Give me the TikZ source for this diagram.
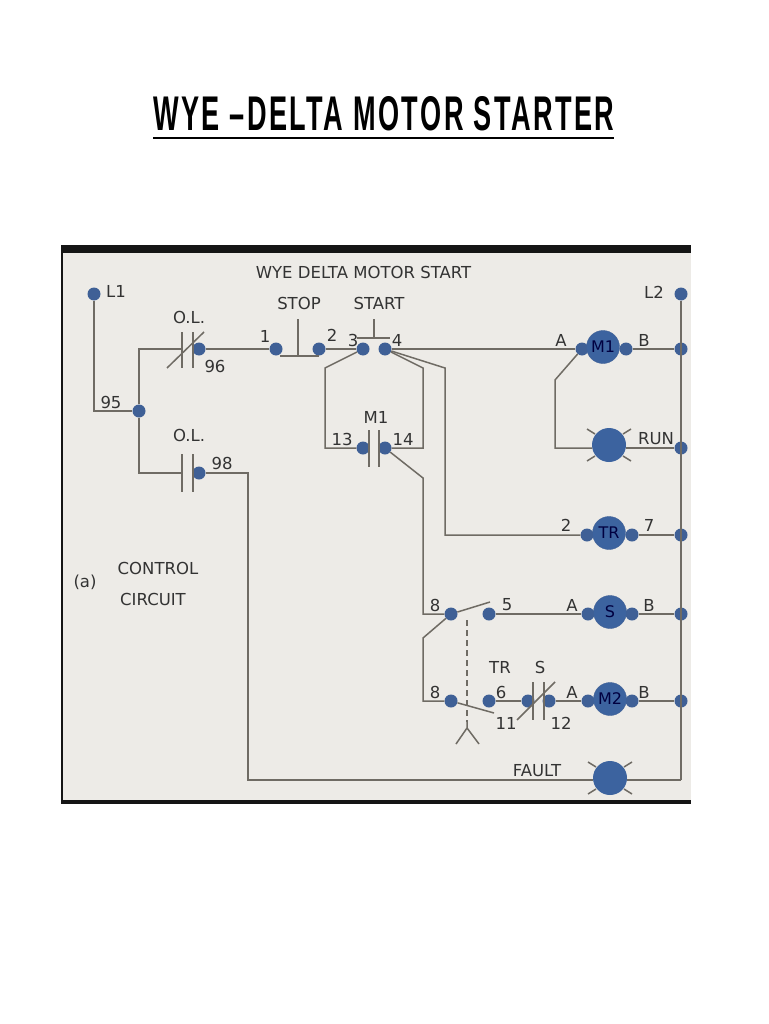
\documentclass[tikz,border=0pt]{standalone}
\usepackage{fontspec}
\usepackage{graphicx}
\setmainfont{DejaVu Sans}
\newfontfamily\titlefont[LetterSpace=9]{Liberation Sans}
\definecolor{panelbg}{HTML}{EDEBE7}
\definecolor{wirec}{HTML}{6F6B64}
\definecolor{dotc}{HTML}{3F6096}
\definecolor{motorc}{HTML}{3C639F}
\definecolor{labelc}{HTML}{333333}
\definecolor{barc}{HTML}{151515}
\tikzset{
  wire/.style={draw=wirec,line width=2pt},
  thinwire/.style={draw=wirec,line width=1.5pt},
  dot/.style={circle,fill=dotc,minimum size=13pt,inner sep=0pt},
  motor/.style={circle,fill=motorc,draw=dotc,minimum size=33pt,inner sep=0pt,text=black!75!blue,font=\fontsize{16}{16}\selectfont},
  lamp/.style={circle,fill=motorc,minimum size=34pt,inner sep=0pt},
  lbl/.style={text=labelc,inner sep=0pt,font=\fontsize{16.5}{17}\selectfont},
}
\begin{document}
\begin{tikzpicture}[x=1pt,y=-1pt]
\useasboundingbox (0,0) rectangle (768,1024);
% title
\node[inner sep=0pt,anchor=base west] (title) at (153,131) {\resizebox{461pt}{34pt}{\titlefont\bfseries WYE –DELTA MOTOR STARTER}};
\coordinate (ula) at (153,138);
\coordinate (ulb) at (614,138);
\draw[line width=1.6pt] (ula) -- (ulb);
% panel
\fill[panelbg] (61,245) rectangle (691,804);
\fill[barc] (61,245) rectangle (691,253);
\fill[barc] (61,800) rectangle (691,804);
\fill[barc] (61,245) rectangle (63,804);
% dots
\node[dot] (L1) at (94,294) {};
\node[dot] (j95) at (139,411) {};
\node[dot] (d96) at (199,349) {};
\node[dot] (d98) at (199,473) {};
\node[dot] (d1) at (276,349) {};
\node[dot] (d2) at (319,349) {};
\node[dot] (d3) at (363,349) {};
\node[dot] (d4) at (385,349) {};
\node[dot] (d13) at (363,448) {};
\node[dot] (d14) at (385,448) {};
\node[dot] (L2) at (681,294) {};
\node[dot] (r1) at (681,349) {};
\node[dot] (r2) at (681,448) {};
\node[dot] (r3) at (681,535) {};
\node[dot] (r4) at (681,614) {};
\node[dot] (r5) at (681,701) {};
\node[dot] (m1a) at (582,349) {};
\node[dot] (m1b) at (626,349) {};
\node[dot] (tra) at (587,535) {};
\node[dot] (trb) at (632,535) {};
\node[dot] (sa) at (588,614) {};
\node[dot] (sb) at (632,614) {};
\node[dot] (m2a) at (588,701) {};
\node[dot] (m2b) at (632,701) {};
\node[dot] (u8) at (451,614) {};
\node[dot] (d5) at (489,614) {};
\node[dot] (l8) at (451,701) {};
\node[dot] (d6) at (489,701) {};
\node[dot] (d11) at (528,701) {};
\node[dot] (d12) at (549,701) {};
% motors and lamps
\node[motor] (M1) at (603,347) {M1};
\node[motor] (TR) at (609,533) {TR};
\node[motor] (S) at (610,612) {S};
\node[motor] (M2) at (610,699) {M2};
\node[lamp] (run) at (609,445) {};
\node[lamp] (fault) at (610,778) {};
% lamp rays
\foreach \l in {run,fault}{
  \draw[thinwire] (\l.center) ++(-22,-16) -- ++(8,5);
  \draw[thinwire] (\l.center) ++(22,-16) -- ++(-8,5);
  \draw[thinwire] (\l.center) ++(-22,16) -- ++(8,-5);
  \draw[thinwire] (\l.center) ++(22,16) -- ++(-8,-5);
}
% junction helper coordinates
\coordinate (olnc1) at (182,349);
\coordinate (olno1) at (182,473);
\coordinate (br1) at (280,356);
\coordinate (br2) at (319,356);
\coordinate (k3) at (325,368);
\coordinate (k4a) at (423,368);
\coordinate (k4b) at (445,368);
\coordinate (k14) at (423,478);
\coordinate (k8) at (423,638);
\coordinate (ka) at (555,380);
\coordinate (kf) at (248,780);
\coordinate (kr) at (681,780);
\coordinate (blade1) at (490,602);
\coordinate (blade2) at (494,713);
\coordinate (runw) at (592,448);
\coordinate (rune) at (626,448);
\coordinate (faultw) at (593,780);
\coordinate (faulte) at (627,780);
% wires
\draw[wire] (L1) |- (j95);
\draw[wire] (j95) |- (olnc1);
\draw[wire] (j95) |- (olno1);
\draw[wire] (d96) -- (d1);
\draw[wire] (br1) -- (br2);
\draw[wire] (d2) -- (d3);
\draw[thinwire] (d3) -- (k3) -- (325,448) -- (d13);
\draw[wire] (d4) -- (m1a);
\draw[thinwire] (d4) -- (k4a) -- (423,448) -- (d14);
\draw[thinwire] (d4) -- (k4b) |- (tra);
\draw[thinwire] (d14) -- (k14) |- (u8);
\draw[thinwire] (u8) -- (k8) |- (l8);
\draw[thinwire] (m1a) -- (ka) |- (runw);
\draw[wire] (rune) -- (r2);
\draw[wire] (m1b) -- (r1);
\draw[wire] (trb) -- (r3);
\draw[wire] (d5) -- (sa);
\draw[wire] (sb) -- (r4);
\draw[wire] (d6) -- (d11);
\draw[wire] (d12) -- (m2a);
\draw[wire] (m2b) -- (r5);
\draw[wire] (L2) -- (kr);
\draw[wire] (kr) -- (faulte);
\draw[wire] (faultw) -- (kf) |- (d98);
% O.L. NC contact
\draw[thinwire] (182,332) -- (182,368);
\draw[thinwire] (193,332) -- (193,368);
\draw[thinwire] (167,368) -- (204,332);
% O.L. NO contact
\draw[thinwire] (182,454) -- (182,492);
\draw[thinwire] (193,454) -- (193,492);
% stop / start buttons
\draw[thinwire] (298,319) -- (298,356);
\draw[thinwire] (374,319) -- (374,338);
\draw[thinwire] (357,338) -- (390,338);
% M1 contact
\draw[thinwire] (369,430) -- (369,467);
\draw[thinwire] (379,430) -- (379,467);
% timed switch
\draw[thinwire] (u8) -- (blade1);
\draw[thinwire] (l8) -- (blade2);
\draw[thinwire,dash pattern=on 6pt off 4pt] (467,620) -- (467,722);
\draw[thinwire] (467,720) -- (467,728) -- (456,744);
\draw[thinwire] (467,728) -- (479,744);
% S contact
\draw[thinwire] (533,682) -- (533,720);
\draw[thinwire] (544,682) -- (544,720);
\draw[thinwire] (517,720) -- (555,682);
% labels
\node[lbl] (t0) at (363.5,272) {WYE DELTA MOTOR START};
\node[lbl] (tL1) at (116,291) {L1};
\node[lbl] (tL2) at (654,292) {L2};
\node[lbl] (tol1) at (189,317) {O.L.};
\node[lbl] (tol2) at (189,435) {O.L.};
\node[lbl] (t96) at (215,366) {96};
\node[lbl] (t98) at (222,463) {98};
\node[lbl] (t95) at (111,402) {95};
\node[lbl] (t1) at (265,336) {1};
\node[lbl] (t2) at (332,335) {2};
\node[lbl] (t3) at (353,340) {3};
\node[lbl] (t4) at (397,340) {4};
\node[lbl] (tstop) at (299,303) {STOP};
\node[lbl] (tstart) at (379,303) {START};
\node[lbl] (t13) at (342,439) {13};
\node[lbl] (t14) at (403,439) {14};
\node[lbl] (tm1) at (376,417) {M1};
\node[lbl] (tA1) at (561,340) {A};
\node[lbl] (tB1) at (644,340) {B};
\node[lbl] (trun) at (656,439) {RUN};
\node[lbl] (t2b) at (566,525) {2};
\node[lbl] (t7) at (649,525) {7};
\node[lbl] (t8a) at (435,605) {8};
\node[lbl] (t5) at (507,605) {5};
\node[lbl] (tA2) at (572,605) {A};
\node[lbl] (tB2) at (649,605) {B};
\node[lbl] (ttr) at (500,667) {TR};
\node[lbl] (ts) at (540,667) {S};
\node[lbl] (t8b) at (435,692) {8};
\node[lbl] (t6) at (501,692) {6};
\node[lbl] (tA3) at (572,692) {A};
\node[lbl] (tB3) at (644,692) {B};
\node[lbl] (t11) at (506,723) {11};
\node[lbl] (t12) at (561,723) {12};
\node[lbl] (tfault) at (537,771) {FAULT};
\node[lbl] (ta) at (85,582) {(a)};
\node[lbl] (tc1) at (158,568) {CONTROL};
\node[lbl] (tc2) at (153,599) {CIRCUIT};
\end{tikzpicture}
\end{document}
